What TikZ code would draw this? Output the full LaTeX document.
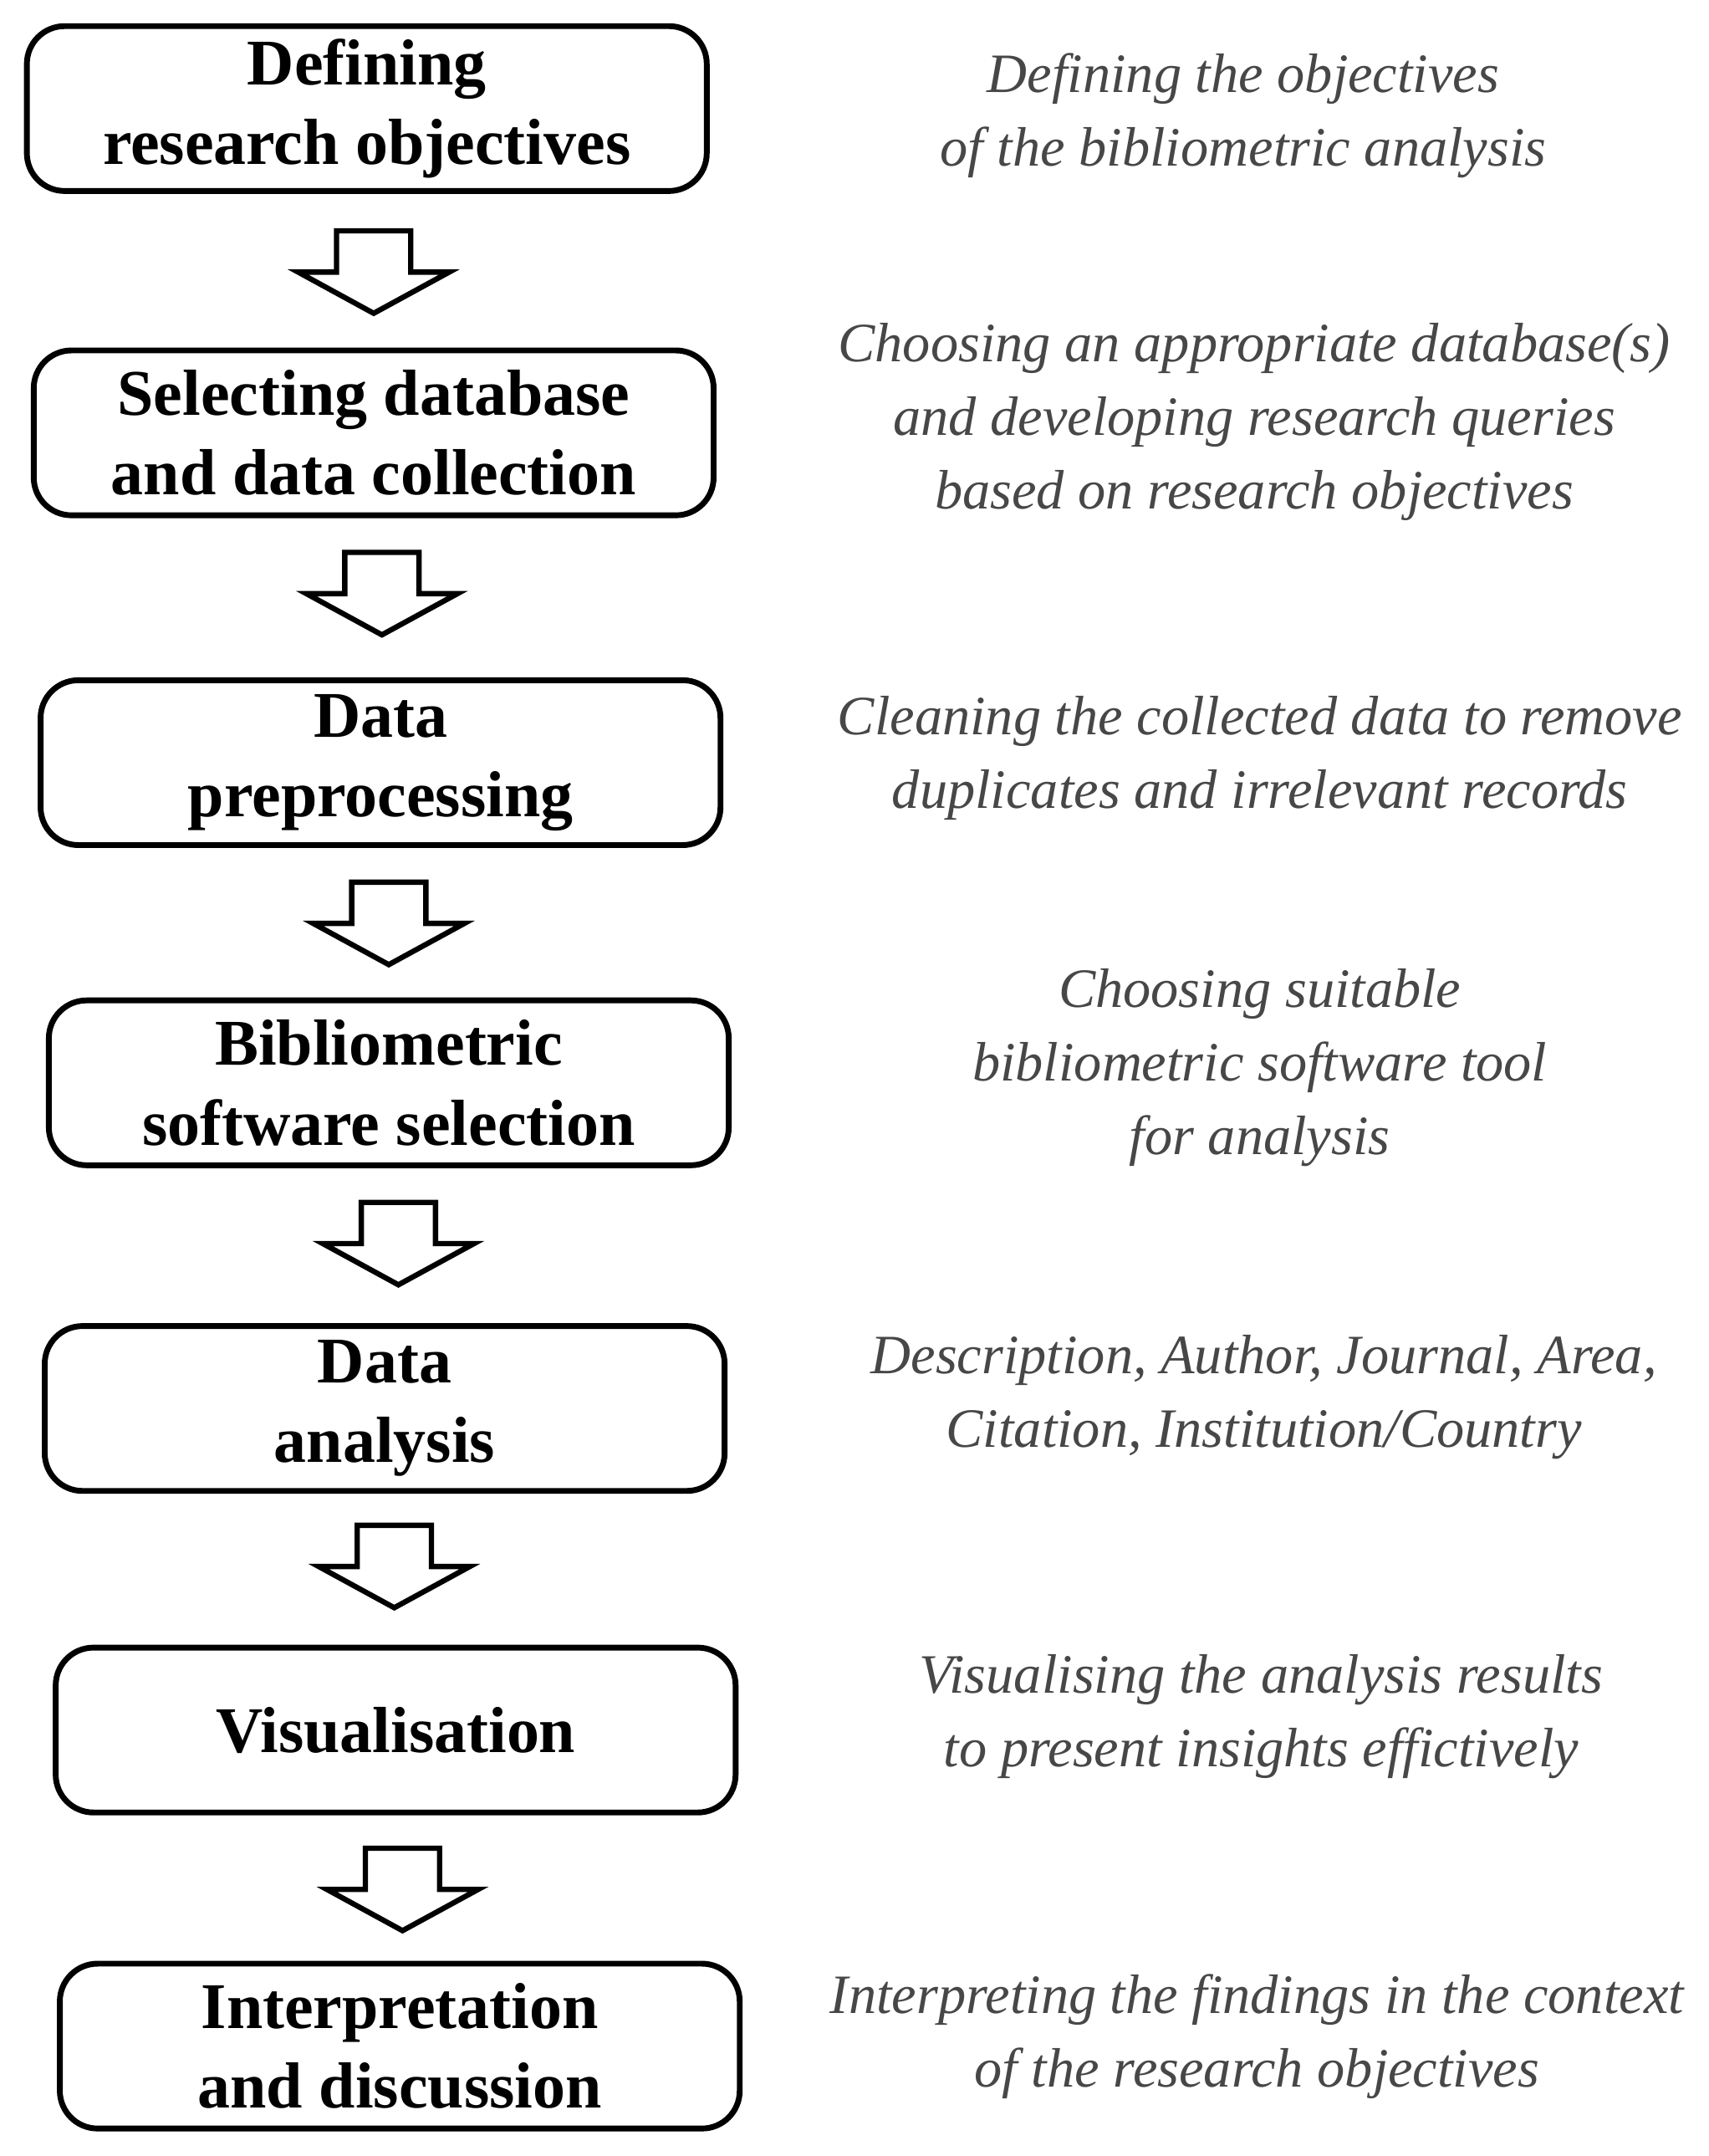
\documentclass[tikz,border=0pt]{standalone}
\usepackage{fontspec}
\setmainfont{Liberation Serif}
\begin{document}
\begin{tikzpicture}[x=0.02cm,y=-0.02cm,
  box/.style={draw,line width=2.4pt,rounded corners=0.55cm,minimum width=9.9cm,minimum height=2.4cm,align=center,font=\fontsize{27}{33}\selectfont\bfseries},
  desc/.style={align=center,text=black!72,font=\fontsize{23}{30.5}\selectfont\itshape},
  blk/.style={draw,line width=2.2pt,fill=white,line join=miter}]
\useasboundingbox (0,0) rectangle (1244,1569);
\node[box] (b1) at (267,79) {Defining\\research objectives};
\node[box] (b2) at (272,315) {Selecting database\\and data collection};
\node[box] (b3) at (277,555) {Data\\preprocessing};
\node[box] (b4) at (283,788) {Bibliometric\\software selection};
\node[box] (b5) at (280,1025) {Data\\analysis};
\node[box] (b6) at (288,1259) {Visualisation};
\node[box] (b7) at (291,1489) {Interpretation\\and discussion};
\node[desc] (d1) at (905,84) {Defining the objectives\\of the bibliometric analysis};
\node[desc] (d2) at (913,307) {Choosing an appropriate database(s)\\and developing research queries\\based on research objectives};
\node[desc] (d3) at (917,552) {Cleaning the collected data to remove\\duplicates and irrelevant records};
\node[desc] (d4) at (917,777) {Choosing suitable\\bibliometric software tool\\for analysis};
\node[desc] (d5) at (920,1017) {Description, Author, Journal, Area,\\Citation, Institution/Country};
\node[desc] (d6) at (918,1249) {Visualising the analysis results\\to present insights effictively};
\node[desc] (d7) at (915,1482) {Interpreting the findings in the context\\of the research objectives};
\foreach \n/\x/\y in {a1/272/168,a2/278/402,a3/283/642,a4/290/875,a5/287/1110,a6/293/1345}{
  \coordinate (\n) at (\x,\y);
  \draw[blk] ([shift={(-27,0)}]\n) -- ([shift={(27,0)}]\n) -- ([shift={(27,30)}]\n) -- ([shift={(55,30)}]\n) -- ([shift={(0,60)}]\n) -- ([shift={(-55,30)}]\n) -- ([shift={(-27,30)}]\n) -- cycle;
}
\end{tikzpicture}
\end{document}
